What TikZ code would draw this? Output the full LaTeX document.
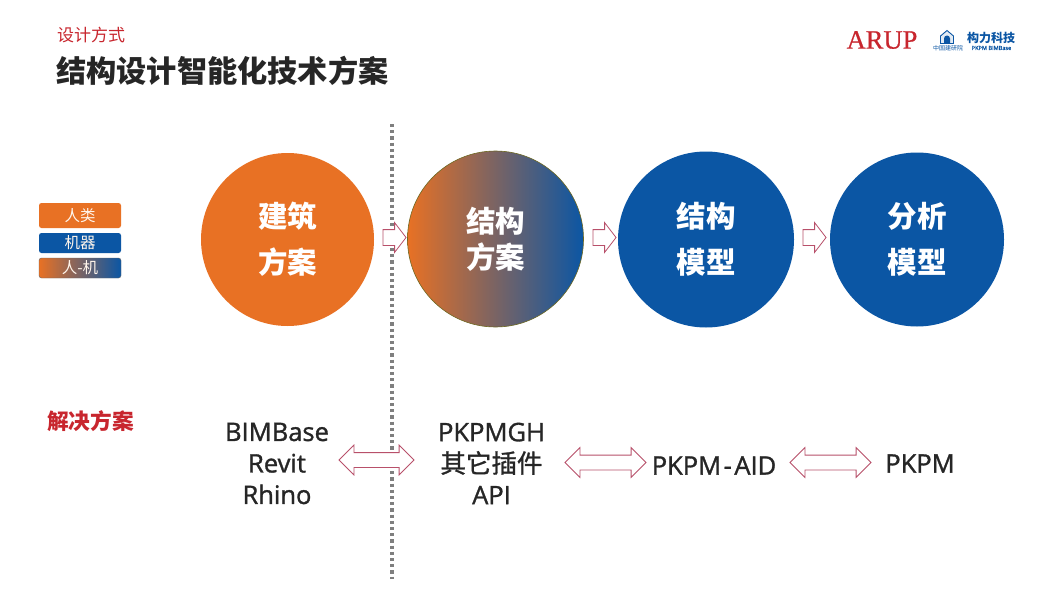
\documentclass[tikz,border=0pt]{standalone}
\usepackage{fontspec}
\setmainfont{Noto Sans CJK SC}
\newfontfamily\cjkm[FakeBold=1.2]{Noto Sans CJK SC}
\newfontfamily\latinf[FakeBold=1.2]{Open Sans}
\newfontfamily\serf[FakeBold=0.6]{Liberation Serif}
\usetikzlibrary{shapes.arrows}
\definecolor{orng}{HTML}{E87124}
\definecolor{blu}{HTML}{0B56A4}
\definecolor{redt}{HTML}{C8262E}
\definecolor{arrowc}{HTML}{B8506A}
\definecolor{ink}{HTML}{262626}
\definecolor{dotc}{HTML}{7F7F7F}
\tikzset{x=1pt,y=-1pt,
 bigc/.style={circle,minimum size=175pt,inner sep=0pt,text=white,align=center,font=\fontsize{29.5}{46}\selectfont\bfseries},
 legend/.style={rounded corners=2.5pt,minimum width=82pt,minimum height=20pt,inner sep=0pt,text=white!92!orange,font=\fontsize{15.5}{17}\selectfont},
 sarrow/.style={single arrow,draw=arrowc,fill=white,line width=0.8pt,inner xsep=0pt,inner ysep=7.5pt,minimum height=23pt,minimum width=29pt,single arrow head extend=7pt,single arrow tip angle=105},
 darrow/.style={double arrow,draw=arrowc,fill=white,line width=0.8pt,inner xsep=0pt,inner ysep=7pt,minimum width=29pt,double arrow head extend=7.5pt,double arrow tip angle=90},
 tool/.style={text=ink,align=center,font=\latinf\fontsize{25.5}{31.5}\selectfont},
}
\begin{document}
\begin{tikzpicture}
\useasboundingbox (0,0) rectangle (1051,591);
\fill[white] (0,0) rectangle (1051,591);
% header
\node[anchor=west,inner sep=0pt,text=redt,font=\fontsize{17}{20}\selectfont] (kicker) at (57,35) {设计方式};
\node[anchor=west,inner sep=0pt,text=ink,font=\fontsize{30.2}{34}\selectfont\bfseries] (title) at (56,71) {结构设计智能化技术方案};
% logos
\node[anchor=center,inner sep=0pt,text=redt,font=\serf\fontsize{26.5}{28}\selectfont] (arup) at (882,40) {ARUP};
\node[inner sep=0pt,text=blu,font=\fontsize{12}{14}\selectfont\bfseries] (goli) at (991,38) {构力科技};
\node[inner sep=0pt,text=blu,font=\fontsize{6}{7}\selectfont] (gosubA) at (948,48) {中国建研院};
\node[inner sep=0pt,text=blu,font=\latinf\fontsize{5.6}{7}\selectfont] (gosubB) at (991.5,48) {PKPM BIMBase};
\draw[draw=blu,line width=0.9pt,fill=blu!12] (947,30.5) -- (953.5,36) -- (953.5,43.5) -- (940.5,43.5) -- (940.5,36) -- cycle;
\fill[blu] (944,43) rectangle (950,38.5) (944,38.5) arc[start angle=180,end angle=0,radius=3pt];
% divider
\coordinate (dtop) at (392,124);
\coordinate (dbot) at (392,579);
\draw[dotc,line width=3.4pt,dash pattern=on 3.2pt off 3pt] (dtop) -- (dbot);
% legend
\node[legend,fill=orng,minimum height=25pt] (l1) at (80,215.5) {人类};
\node[legend,fill=blu] (l2) at (80,243) {机器};
\node[legend,left color=orng,right color=blu,draw=gray!80!black,line width=0.4pt] (l3) at (80,268) {人-机};
% circles
\node[bigc,fill=orng,minimum size=173pt] (c1) at (287.5,239.5) {建筑\\方案};
\node[bigc,left color=orng,right color=blu,draw=olive!70!black,line width=0.6pt,minimum size=176pt] (c2) at (495.5,239) {结构\\[-10pt]方案};
\node[bigc,fill=blu,minimum size=176pt] (c3) at (706,239.5) {结构\\模型};
\node[bigc,fill=blu,minimum size=174pt] (c4) at (917,239.5) {分析\\模型};
% single arrows
\node[sarrow] (a1) at (391.5,237.5) {};
\node[sarrow] (a2) at (601.5,237.5) {};
\node[sarrow] (a3) at (811.5,237.5) {};
% bottom row
\node[text=redt,font=\fontsize{21.7}{25}\selectfont\bfseries] (sol) at (90.5,421) {解决方案};
\node[tool] (t1) at (277,463.5) {BIMBase\\Revit\\Rhino};
\node[tool] (t2) at (491.5,463.5) {PKPMGH\\{\cjkm 其它插件}\\API};
\node[tool] (t3) at (714,465.5) {PKPM\kern2.5pt-\kern2.5pt AID};
\node[tool] (t4) at (920,463.5) {PKPM};
\node[darrow,minimum height=75pt] (d1) at (376.5,460) {};
\node[darrow,minimum height=81pt] (d2) at (605.5,462.5) {};
\node[darrow,minimum height=81pt] (d3) at (830.5,462.5) {};
\end{tikzpicture}
\end{document}
